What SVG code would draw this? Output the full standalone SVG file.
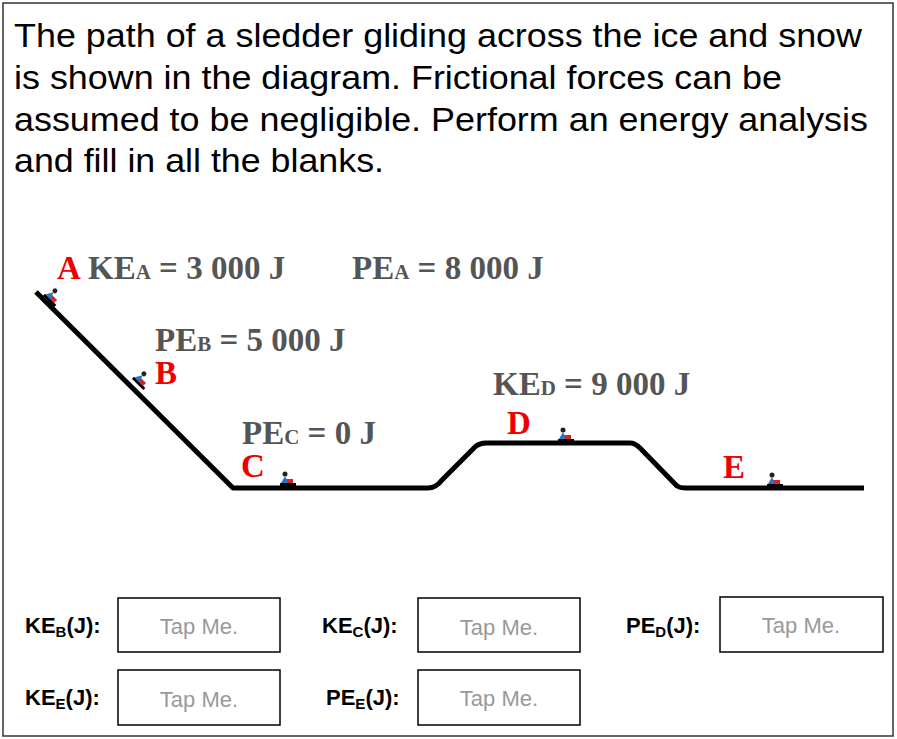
<svg xmlns="http://www.w3.org/2000/svg" width="897" height="739" viewBox="0 0 897 739">
<style>
.t{font-family:"Liberation Sans",Arial,sans-serif;font-size:34px;fill:#000}
.g{font-family:"Liberation Serif","Times New Roman",serif;font-weight:bold;font-size:33px;fill:#555}
.gs{font-size:21px}
.r{font-family:"Liberation Serif","Times New Roman",serif;font-weight:bold;font-size:33px;fill:#e00}
.lb{font-family:"Liberation Sans",Arial,sans-serif;font-weight:bold;font-size:22px;fill:#000}
.ls{font-size:15px}
.box{fill:#fff;stroke:#000;stroke-width:1.5}
.ph{font-family:"Liberation Sans",Arial,sans-serif;font-size:22px;fill:#999;text-anchor:middle}
</style>
<defs>
<g id="sled">
<rect x="-8" y="-1" width="16" height="3" fill="#000"/>
<rect x="-4" y="-5" width="9" height="4" fill="#d22"/>
<path d="M-7,-1 L-3,-8 L0,-1 Z" fill="#27c"/>
<circle cx="-3" cy="-10" r="2.5" fill="#222"/>
</g>
</defs>
<rect x="3" y="3" width="890" height="733" fill="#fff" stroke="#333" stroke-width="1.5"/>
<g id="title">
<text class="t" x="14" y="47" textLength="848" lengthAdjust="spacingAndGlyphs">The path of a sledder gliding across the ice and snow</text>
<text class="t" x="14" y="89" textLength="768" lengthAdjust="spacingAndGlyphs">is shown in the diagram. Frictional forces can be</text>
<text class="t" x="14" y="131" textLength="854" lengthAdjust="spacingAndGlyphs">assumed to be negligible. Perform an energy analysis</text>
<text class="t" x="14" y="172" textLength="370" lengthAdjust="spacingAndGlyphs">and fill in all the blanks.</text>
</g>
<g id="connectors">
<path d="M36,292 L233,488 L428,488 Q436,488 442,480 L476,446 Q480,443 486,443 L630,443 Q635,443 640,448 L677,486 Q680,488 685,488 L864,488" fill="none" stroke="#000" stroke-width="5" stroke-linejoin="round"/>
</g>
<g id="sledders">
<g transform="translate(50,300) rotate(45)"><use href="#sled"/></g>
<g transform="translate(139,383) rotate(45)"><use href="#sled"/></g>
<use href="#sled" transform="translate(288,484)"/>
<use href="#sled" transform="translate(566,440)"/>
<use href="#sled" transform="translate(775,485)"/>
</g>
<g id="labels">
<text class="r" x="57" y="279">A</text>
<text class="g" x="88" y="279">KE<tspan class="gs">A</tspan> = 3 000 J</text>
<text class="g" x="352" y="279">PE<tspan class="gs">A</tspan> = 8 000 J</text>
<text class="g" x="155" y="351">PE<tspan class="gs">B</tspan> = 5 000 J</text>
<text class="r" x="155" y="384">B</text>
<text class="g" x="242" y="444">PE<tspan class="gs">C</tspan> =  0 J</text>
<text class="r" x="241" y="477">C</text>
<text class="g" x="493" y="395">KE<tspan class="gs">D</tspan> = 9 000 J</text>
<text class="r" x="507" y="434">D</text>
<text class="r" x="723" y="478">E</text>
</g>
<g id="field-keb"><text class="lb" x="25" y="633">KE<tspan class="ls" dy="4">B</tspan><tspan dy="-4">(J):</tspan></text><rect class="box" x="118" y="598" width="162" height="54"/><text class="ph" x="199" y="634">Tap Me.</text></g>
<g id="field-kec"><text class="lb" x="322" y="633">KE<tspan class="ls" dy="4">C</tspan><tspan dy="-4">(J):</tspan></text><rect class="box" x="418" y="598" width="162" height="54"/><text class="ph" x="499" y="635">Tap Me.</text></g>
<g id="field-ped"><text class="lb" x="626" y="633">PE<tspan class="ls" dy="4">D</tspan><tspan dy="-4">(J):</tspan></text><rect class="box" x="720" y="597" width="163" height="55"/><text class="ph" x="801" y="633">Tap Me.</text></g>
<g id="field-kee"><text class="lb" x="25" y="705">KE<tspan class="ls" dy="4">E</tspan><tspan dy="-4">(J):</tspan></text><rect class="box" x="118" y="670" width="162" height="55"/><text class="ph" x="199" y="707">Tap Me.</text></g>
<g id="field-pee"><text class="lb" x="326" y="705">PE<tspan class="ls" dy="4">E</tspan><tspan dy="-4">(J):</tspan></text><rect class="box" x="418" y="670" width="162" height="55"/><text class="ph" x="499" y="706">Tap Me.</text></g>
</svg>
